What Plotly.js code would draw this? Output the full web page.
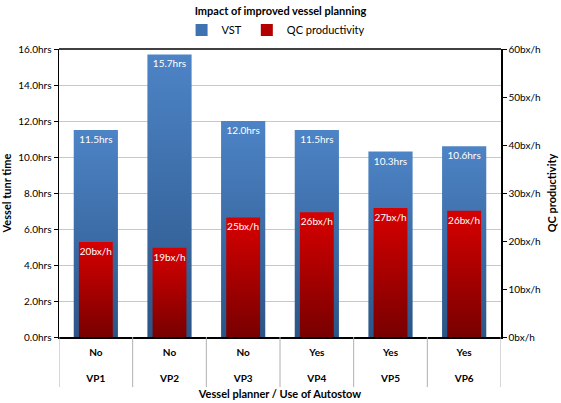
<!DOCTYPE html>
<html><head><meta charset="utf-8">
<script src="https://cdn.plot.ly/plotly-3.0.1.min.js"></script>
<style>html,body{margin:0;padding:0;background:#fff}#chart{width:561px;height:403px}</style>
</head><body>
<div id="chart"></div>
<script>
// Data
const planners = ["VP1", "VP2", "VP3", "VP4", "VP5", "VP6"];
const autostow = ["No", "No", "No", "Yes", "Yes", "Yes"];
const vstHours = [11.5, 15.7, 12.0, 11.5, 10.3, 10.6];
const qcProductivity = [19.8, 18.6, 24.9, 26.0, 26.9, 26.3];
const qcLabels = ["20bx/h", "19bx/h", "25bx/h", "26bx/h", "27bx/h", "26bx/h"];

const FONT = "Lato, 'Open Sans', 'DejaVu Sans', sans-serif";
const BLUE = "#3f72b2";
const RED = "#b40000";

const tickText = planners.map((p, i) => "<b>" + autostow[i] + "</b><br><br><b>" + p + "</b>");

const traces = [
  {
    type: "bar", name: "VST", x: planners, y: vstHours, yaxis: "y",
    width: 0.6,
    marker: {color: BLUE},
    text: vstHours.map(v => v.toFixed(1) + "hrs"),
    textposition: "inside", insidetextanchor: "end", textangle: 0,
    constraintext: "none",
    textfont: {color: "#ffffff", size: 10, family: FONT},
    hoverinfo: "skip"
  },
  {
    type: "bar", name: "QC productivity", x: planners, y: qcProductivity, yaxis: "y2",
    width: 0.46,
    marker: {color: RED},
    text: qcLabels,
    textposition: "inside", insidetextanchor: "end", textangle: 0,
    constraintext: "none",
    textfont: {color: "#ffffff", size: 10, family: FONT},
    hoverinfo: "skip"
  }
];

const shapes = [];
for (let i = 0; i <= planners.length; i++) {
  shapes.push({type: "line", xref: "x", yref: "paper", x0: i - 0.5, x1: i - 0.5,
    y0: 0, y1: -0.174, line: {color: "#b0b0b0", width: 1}});
}
// top frame line
shapes.push({type: "line", xref: "paper", yref: "paper", x0: 0, x1: 1, y0: 1, y1: 1,
  line: {color: "#000", width: 1.5}});

const layout = {
  width: 561, height: 403,
  margin: {l: 59, r: 60, t: 49, b: 66},
  paper_bgcolor: "#fff", plot_bgcolor: "#fff",
  font: {family: FONT, size: 10, color: "#000"},
  barmode: "overlay",
  title: {text: "<b>Impact of improved vessel planning</b>", font: {size: 11, family: FONT},
    x: 0.5, xanchor: "center", y: 0.972, yanchor: "middle", yref: "container"},
  showlegend: true,
  legend: {orientation: "h", x: 0.49, xanchor: "center", y: 1.066, yanchor: "middle",
    font: {size: 11, family: FONT}, itemwidth: 30, tracegroupgap: 0},
  xaxis: {
    type: "category", tickvals: planners, ticktext: tickText,
    range: [-0.5, 5.5],
    showline: true, linecolor: "#000", linewidth: 1.5,
    ticks: "outside", ticklen: 5, tickcolor: "rgba(0,0,0,0)", showgrid: false,
    tickfont: {size: 10, family: FONT},
    title: {text: "<b>Vessel planner / Use of Autostow</b>", font: {size: 11, family: FONT}, standoff: 8}
  },
  yaxis: {
    range: [0, 16], dtick: 2, tick0: 0, tickformat: ".1f", ticksuffix: "hrs",
    showline: true, linecolor: "#000", linewidth: 1.5,
    ticks: "outside", ticklen: 4, tickcolor: "#000",
    showgrid: true, gridcolor: "#c8c8c8", gridwidth: 1, zeroline: false,
    tickfont: {size: 10, family: FONT},
    title: {text: "<b>Vessel tunr time</b>", font: {size: 11, family: FONT}, standoff: 6}
  },
  yaxis2: {
    overlaying: "y", side: "right",
    range: [0, 60], dtick: 10, tick0: 0, ticksuffix: "bx/h",
    showline: true, linecolor: "#000", linewidth: 1.5,
    ticks: "outside", ticklen: 4, tickcolor: "#000",
    showgrid: false, zeroline: false,
    tickfont: {size: 10, family: FONT},
    title: {text: "<b>QC productivity</b>", font: {size: 11, family: FONT}, standoff: 8}
  },
  shapes: shapes
};

Plotly.newPlot("chart", traces, layout, {staticPlot: true, displayModeBar: false}).then(gd => {
  // add vertical gradients to bars (styling only)
  const svg = gd.querySelector("svg.main-svg");
  const ns = "http://www.w3.org/2000/svg";
  let defs = svg.querySelector("defs");
  function grad(id, top, bottom) {
    const g = document.createElementNS(ns, "linearGradient");
    g.setAttribute("id", id);
    g.setAttribute("x1", "0"); g.setAttribute("y1", "0");
    g.setAttribute("x2", "0"); g.setAttribute("y2", "1");
    [[0, top], [1, bottom]].forEach(([o, c]) => {
      const s = document.createElementNS(ns, "stop");
      s.setAttribute("offset", o); s.setAttribute("stop-color", c);
      g.appendChild(s);
    });
    defs.appendChild(g);
  }
  grad("gBlue", "#4d84c6", "#2b5587");
  grad("gRed", "#d80000", "#780000");
  const traceGroups = gd.querySelectorAll(".barlayer .trace.bars");
  traceGroups.forEach(tg => {
    const paths = tg.querySelectorAll(".point path");
    paths.forEach(p => {
      const f = p.style.fill;
      if (f.indexOf("63, 114, 178") >= 0) p.style.fill = "url(#gBlue)";
      else if (f.indexOf("180, 0, 0") >= 0) p.style.fill = "url(#gRed)";
    });
  });
});
</script>
</body></html>
